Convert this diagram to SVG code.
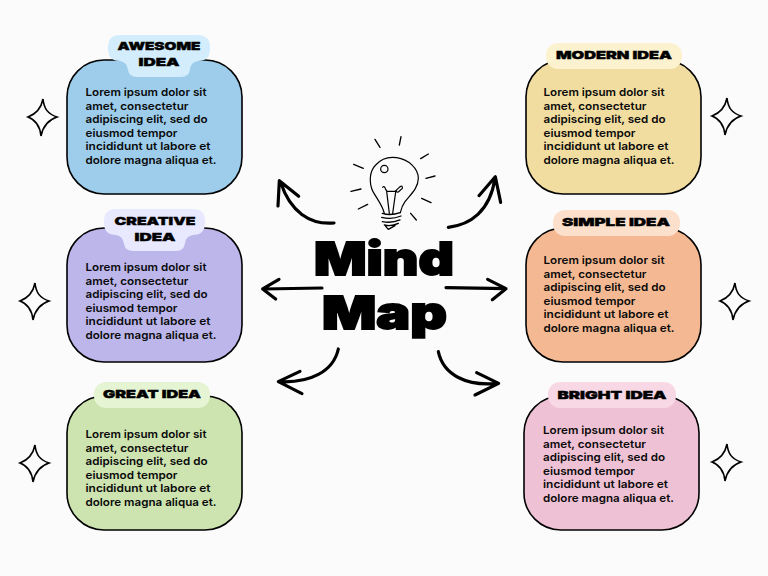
<svg xmlns="http://www.w3.org/2000/svg" width="768" height="576" viewBox="0 0 768 576">
<style>
.box{stroke:#000;stroke-width:1.6}
.b{font-family:"Inter","Liberation Sans",sans-serif;font-size:11px;font-weight:600;fill:#0a0a0a}
.h{font-family:"Inter","Liberation Sans",sans-serif;font-size:11px;font-weight:900;fill:#000;stroke:#000;stroke-width:.4}
.title{font-family:"Inter","Liberation Sans",sans-serif;font-size:45px;font-weight:900;fill:#000;stroke:#000;stroke-width:1.8}
.star{fill:none;stroke:#000;stroke-width:1.6;stroke-linejoin:miter}
.arrow{fill:none;stroke:#000;stroke-width:9.5;stroke-linecap:round;stroke-linejoin:round}
.bulb{fill:none;stroke:#000;stroke-width:3.6;stroke-linecap:round;stroke-linejoin:round}
</style>
<defs>
<path id="star" class="star" d="M1-18C2-8 6-3 15 0C6 3 1 9-1 19C-2 9-6 3-14 0C-6-3-1-8 1-18Z"/>
<rect id="card" class="box" width="175" height="134" rx="37"/>
</defs>
<rect width="768" height="576" fill="#fbfbfc"/>
<g id="node-awesome">
<use href="#star" x="42" y="117"/>
<use href="#card" x="67" y="60" fill="#9dcdeb"/>
<path fill="#d3edfd" d="M120 35H197Q210 35 210 47V49Q210 61 198 61Q191 62 190 69Q189 77 181 77H137Q129 77 128 70Q127 62 120 61Q108 61 108 49V47Q108 35 120 35Z"/>
<text class="h" x="159" y="50" text-anchor="middle" textLength="83" lengthAdjust="spacingAndGlyphs">AWESOME</text>
<text class="h" x="159" y="66" text-anchor="middle" textLength="41" lengthAdjust="spacingAndGlyphs">IDEA</text>
<text class="b"><tspan x="85.5" y="96" textLength="121" lengthAdjust="spacingAndGlyphs">Lorem ipsum dolor sit</tspan><tspan x="85.5" y="110" textLength="103" lengthAdjust="spacingAndGlyphs">amet, consectetur</tspan><tspan x="85.5" y="123" textLength="122" lengthAdjust="spacingAndGlyphs">adipiscing elit, sed do</tspan><tspan x="85.5" y="137" textLength="92" lengthAdjust="spacingAndGlyphs">eiusmod tempor</tspan><tspan x="85.5" y="150" textLength="125" lengthAdjust="spacingAndGlyphs">incididunt ut labore et</tspan><tspan x="85.5" y="164" textLength="131" lengthAdjust="spacingAndGlyphs">dolore magna aliqua et.</tspan></text>
</g>
<g id="node-creative">
<use href="#star" x="34" y="301"/>
<use href="#card" x="67" y="228" fill="#bcb6ea"/>
<path fill="#e8e8fe" d="M116 209H193Q205 209 205 221V223Q205 235 193 235Q186 236 185 243Q184 251 176 251H133Q125 251 124 244Q123 236 116 235Q104 235 104 223V221Q104 209 116 209Z"/>
<text class="h" x="155" y="225" text-anchor="middle" textLength="81" lengthAdjust="spacingAndGlyphs">CREATIVE</text>
<text class="h" x="155" y="241" text-anchor="middle" textLength="41" lengthAdjust="spacingAndGlyphs">IDEA</text>
<text class="b"><tspan x="85.5" y="271" textLength="121" lengthAdjust="spacingAndGlyphs">Lorem ipsum dolor sit</tspan><tspan x="85.5" y="285" textLength="103" lengthAdjust="spacingAndGlyphs">amet, consectetur</tspan><tspan x="85.5" y="298" textLength="122" lengthAdjust="spacingAndGlyphs">adipiscing elit, sed do</tspan><tspan x="85.5" y="312" textLength="92" lengthAdjust="spacingAndGlyphs">eiusmod tempor</tspan><tspan x="85.5" y="325" textLength="125" lengthAdjust="spacingAndGlyphs">incididunt ut labore et</tspan><tspan x="85.5" y="339" textLength="131" lengthAdjust="spacingAndGlyphs">dolore magna aliqua et.</tspan></text>
</g>
<g id="node-great">
<use href="#star" x="34" y="463"/>
<use href="#card" x="67" y="396" fill="#cde3b0"/>
<rect x="94" y="382" width="116" height="26" rx="12" fill="#e5f5d3"/>
<text class="h" x="152" y="398" text-anchor="middle" textLength="98" lengthAdjust="spacingAndGlyphs">GREAT IDEA</text>
<text class="b"><tspan x="85.5" y="438" textLength="121" lengthAdjust="spacingAndGlyphs">Lorem ipsum dolor sit</tspan><tspan x="85.5" y="452" textLength="103" lengthAdjust="spacingAndGlyphs">amet, consectetur</tspan><tspan x="85.5" y="465" textLength="122" lengthAdjust="spacingAndGlyphs">adipiscing elit, sed do</tspan><tspan x="85.5" y="479" textLength="92" lengthAdjust="spacingAndGlyphs">eiusmod tempor</tspan><tspan x="85.5" y="492" textLength="125" lengthAdjust="spacingAndGlyphs">incididunt ut labore et</tspan><tspan x="85.5" y="506" textLength="131" lengthAdjust="spacingAndGlyphs">dolore magna aliqua et.</tspan></text>
</g>
<g id="node-modern">
<use href="#star" x="726" y="116"/>
<use href="#card" x="526" y="60" fill="#f1dda0"/>
<rect x="546" y="43" width="136" height="26" rx="12" fill="#fdf2cf"/>
<text class="h" x="614" y="59" text-anchor="middle" textLength="116" lengthAdjust="spacingAndGlyphs">MODERN IDEA</text>
<text class="b"><tspan x="543.5" y="96" textLength="121" lengthAdjust="spacingAndGlyphs">Lorem ipsum dolor sit</tspan><tspan x="543.5" y="110" textLength="103" lengthAdjust="spacingAndGlyphs">amet, consectetur</tspan><tspan x="543.5" y="123" textLength="122" lengthAdjust="spacingAndGlyphs">adipiscing elit, sed do</tspan><tspan x="543.5" y="137" textLength="92" lengthAdjust="spacingAndGlyphs">eiusmod tempor</tspan><tspan x="543.5" y="150" textLength="125" lengthAdjust="spacingAndGlyphs">incididunt ut labore et</tspan><tspan x="543.5" y="164" textLength="131" lengthAdjust="spacingAndGlyphs">dolore magna aliqua et.</tspan></text>
</g>
<g id="node-simple">
<use href="#star" x="734" y="301"/>
<use href="#card" x="526" y="228" fill="#f4b992"/>
<rect x="553" y="210" width="127" height="26" rx="12" fill="#fde0cc"/>
<text class="h" x="616" y="226" text-anchor="middle" textLength="108" lengthAdjust="spacingAndGlyphs">SIMPLE IDEA</text>
<text class="b"><tspan x="543.5" y="264" textLength="121" lengthAdjust="spacingAndGlyphs">Lorem ipsum dolor sit</tspan><tspan x="543.5" y="278" textLength="103" lengthAdjust="spacingAndGlyphs">amet, consectetur</tspan><tspan x="543.5" y="291" textLength="122" lengthAdjust="spacingAndGlyphs">adipiscing elit, sed do</tspan><tspan x="543.5" y="305" textLength="92" lengthAdjust="spacingAndGlyphs">eiusmod tempor</tspan><tspan x="543.5" y="318" textLength="125" lengthAdjust="spacingAndGlyphs">incididunt ut labore et</tspan><tspan x="543.5" y="332" textLength="131" lengthAdjust="spacingAndGlyphs">dolore magna aliqua et.</tspan></text>
</g>
<g id="node-bright">
<use href="#star" x="726" y="462"/>
<use href="#card" x="524" y="396" fill="#efc1d4"/>
<rect x="548" y="382" width="128" height="26" rx="12" fill="#f8d8e5"/>
<text class="h" x="612" y="399" text-anchor="middle" textLength="109" lengthAdjust="spacingAndGlyphs">BRIGHT IDEA</text>
<text class="b"><tspan x="543" y="434" textLength="121" lengthAdjust="spacingAndGlyphs">Lorem ipsum dolor sit</tspan><tspan x="543" y="448" textLength="103" lengthAdjust="spacingAndGlyphs">amet, consectetur</tspan><tspan x="543" y="461" textLength="122" lengthAdjust="spacingAndGlyphs">adipiscing elit, sed do</tspan><tspan x="543" y="475" textLength="92" lengthAdjust="spacingAndGlyphs">eiusmod tempor</tspan><tspan x="543" y="488" textLength="125" lengthAdjust="spacingAndGlyphs">incididunt ut labore et</tspan><tspan x="543" y="502" textLength="131" lengthAdjust="spacingAndGlyphs">dolore magna aliqua et.</tspan></text>
</g>
<g id="node-center">
<text class="title" x="384" y="275" text-anchor="middle" textLength="140" lengthAdjust="spacingAndGlyphs">Mind</text>
<text class="title" x="384.5" y="329" text-anchor="middle" textLength="125" lengthAdjust="spacingAndGlyphs">Map</text>
<g class="bulb" transform="translate(345 130) scale(.3333)">
<path d="M118 250C112 225 95 205 84 185C72 160 72 125 92 105C110 85 135 80 155 83C190 88 220 115 220 145C220 175 195 195 180 215C172 226 168 238 166 248"/>
<circle cx="118" cy="117" r="11"/>
<path d="M113 172Q118 165 122 178L126 184H150L163 172Q174 164 172 175L160 186Q151 187 155 180M125 184L133 250M152 186L143 250"/>
<path d="M112 250Q135 258 166 248M110 262Q140 270 168 258M112 275Q140 280 165 270M118 285Q140 290 160 280M122 289L130 298L150 287" stroke-width="4"/>
<path d="M90 28L105 52M168 20L163 45M250 72L227 86M270 138L243 145M258 218L230 205M197 250L214 270M68 223L40 237M48 177L18 184M55 115L26 103" stroke-width="4"/>
</g>
</g>
<g id="connectors" class="arrow" transform="translate(260 125) scale(.3333)">
<path d="M222 294C150 300 90 260 62 172M54 243L58 167L116 214"/>
<path d="M565 307C630 300 690 260 705 160M657 212L706 155L722 232"/>
<path d="M186 489L8 492M57 463L8 492L47 522"/>
<path d="M558 488L738 491M683 463L738 491L697 524"/>
<path d="M235 672C220 740 150 775 57 770M120 739L55 770L126 806"/>
<path d="M535 680C550 750 620 785 715 775M650 743L716 775L645 810"/>
</g>
</svg>
